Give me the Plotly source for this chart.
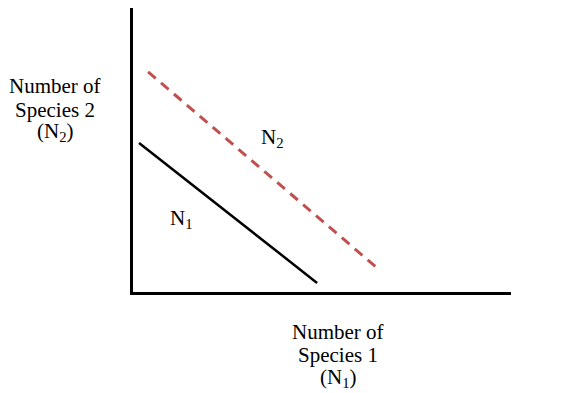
import plotly.graph_objects as go

# Isocline data (arbitrary units)
n1_iso_x = [0.16, 4.87]
n1_iso_y = [5.25, 0.32]
n2_iso_x = [0.40, 6.43]
n2_iso_y = [7.75, 0.88]

labels = ["N<sub>1</sub>", "N<sub>2</sub>"]
label_x = [1.27, 3.68]
label_y = [2.57, 5.42]

y_title_lines = ["Number of", "Species 2", "(N<sub>2</sub>)"]
x_title_lines = ["Number of", "Species 1", "(N<sub>1</sub>)"]

# page has an 8px body margin; figure sized to fit the window
OFF = 8
W, H = 562, 385
L, R, T, B = 125, 59, 0, 101
# plot area in screen pixels
SL, SR, ST, SB = L + OFF, OFF + W - R, OFF + T, OFF + H - B
pw, ph = SR - SL, SB - ST

FONT = "Liberation Serif, Times New Roman, serif"

fig = go.Figure()
fig.add_trace(go.Scatter(x=n1_iso_x, y=n1_iso_y, mode="lines",
                         line=dict(color="black", width=2.5), showlegend=False, hoverinfo="skip"))
fig.add_trace(go.Scatter(x=n2_iso_x, y=n2_iso_y, mode="lines",
                         line=dict(color="#C0504D", width=3, dash="10px,7px"), showlegend=False, hoverinfo="skip"))

anns = []
for t, x, y in zip(labels, label_x, label_y):
    anns.append(dict(x=x, y=y, xref="x", yref="y", text=t, showarrow=False,
                     font=dict(family=FONT, size=21, color="black"), xanchor="center", yanchor="middle"))

def px_to_paper(sx, sy):
    return (sx - SL) / pw, (SB - sy) / ph

for t, sy in zip(y_title_lines, [85.5, 109.5, 132]):
    x, y = px_to_paper(55, sy)
    anns.append(dict(x=x, y=y, xref="paper", yref="paper", text=t, showarrow=False,
                     font=dict(family=FONT, size=21, color="black"), xanchor="center", yanchor="middle"))
for t, sy in zip(x_title_lines, [331.5, 355, 377.5]):
    x, y = px_to_paper(338, sy)
    anns.append(dict(x=x, y=y, xref="paper", yref="paper", text=t, showarrow=False,
                     font=dict(family=FONT, size=21, color="black"), xanchor="center", yanchor="middle"))

axis_common = dict(showgrid=False, zeroline=False, showticklabels=False, ticks="",
                   showline=True, linecolor="black", linewidth=3, fixedrange=True)
fig.update_layout(
    width=W, height=H,
    margin=dict(l=L, r=R, t=T, b=B, pad=0),
    paper_bgcolor="white", plot_bgcolor="white",
    xaxis=dict(range=[0, 10], **axis_common),
    yaxis=dict(range=[0, 10], **axis_common),
    annotations=anns,
)
fig.write_html("out.html")
